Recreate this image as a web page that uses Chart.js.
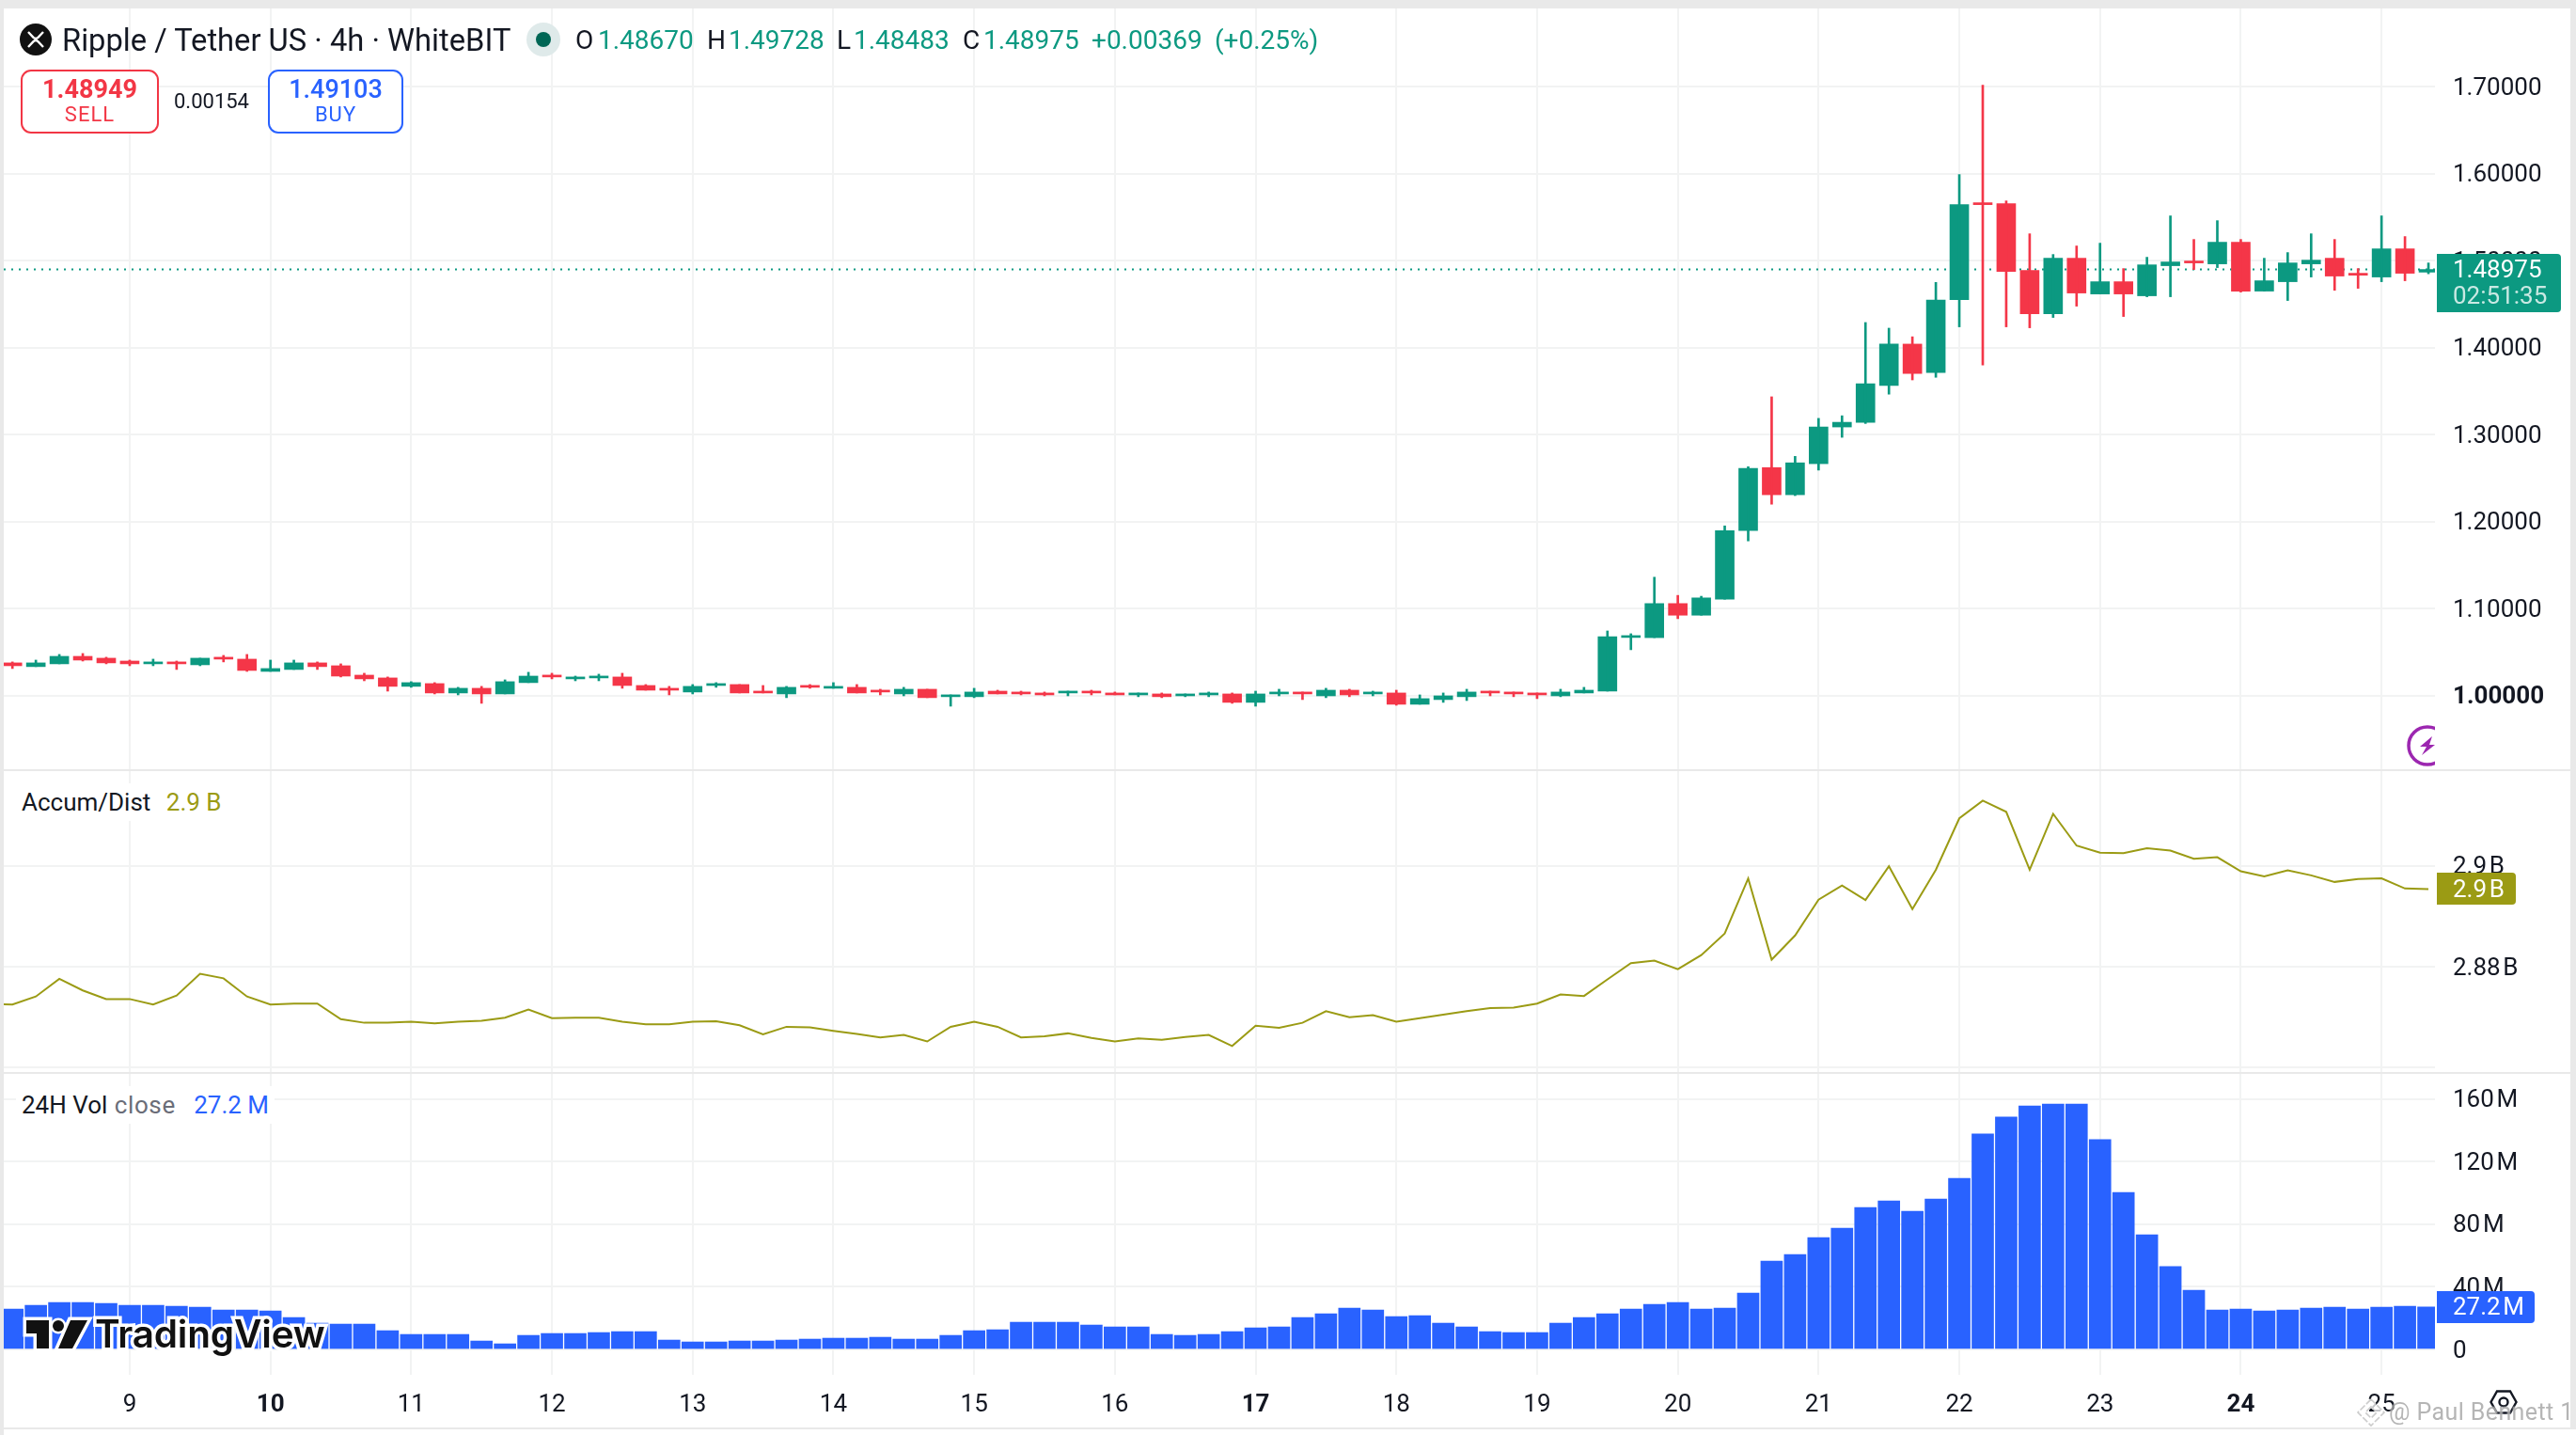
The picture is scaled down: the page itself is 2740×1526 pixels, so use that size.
<!DOCTYPE html>
<html><head><meta charset="utf-8"><title>Ripple / Tether US</title>
<script src="https://cdn.jsdelivr.net/npm/chart.js@4/dist/chart.umd.min.js"></script>
<style>
html,body{margin:0;padding:0;background:#fff;width:2740px;height:1526px;overflow:hidden;font-family:Roboto,sans-serif;color:#131722}
canvas{position:absolute;left:0}
.t{position:absolute;white-space:nowrap;line-height:40px;height:40px}
.g{color:#0c9981}
.bar{position:absolute;background:#e9e9e9}
.box{position:absolute;box-sizing:border-box;border:2px solid;border-radius:11px;background:#fff;text-align:center}
svg{position:absolute;overflow:visible}
</style></head><body>
<canvas id="priceCanvas" width="2740" height="809" style="top:9px"></canvas>
<canvas id="adCanvas" width="2740" height="320" style="top:820px"></canvas>
<canvas id="volCanvas" width="2740" height="376" style="top:1142px"></canvas>

<div class="bar" style="left:0;top:0;width:2740px;height:9px"></div>
<div class="bar" style="left:0;top:0;width:4px;height:1526px"></div>
<div class="bar" style="left:2734px;top:0;width:6px;height:1519px"></div>
<div class="bar" style="left:0;top:818px;width:2740px;height:2px"></div>
<div class="bar" style="left:0;top:1140px;width:2740px;height:2px"></div>
<div class="bar" style="left:0;top:1518px;width:2740px;height:2px"></div>

<svg style="left:21px;top:25px" width="34" height="34" viewBox="0 0 34 34">
  <circle cx="17" cy="17" r="17" fill="#111"/>
  <path d="M9 9 L14.5 14.8 Q17 17 19.5 14.8 L25 9 M9 25 L14.5 19.2 Q17 17 19.5 19.2 L25 25" fill="none" stroke="#fff" stroke-width="2.4"/>
</svg>
<div class="t" style="left:66px;top:23px;font-size:32.7px">Ripple / Tether US · 4h · WhiteBIT</div>
<svg style="left:560px;top:24px" width="36" height="36"><ellipse cx="18" cy="18" rx="18" ry="18" fill="#dfeaea"/><circle cx="18" cy="18" r="8" fill="#006655"/></svg>
<div class="t" style="left:612px;top:23px;font-size:28px">O</div><div class="t g" style="left:636px;top:23px;font-size:28px">1.48670</div>
<div class="t" style="left:752px;top:23px;font-size:28px">H</div><div class="t g" style="left:775px;top:23px;font-size:28px">1.49728</div>
<div class="t" style="left:890px;top:23px;font-size:28px">L</div><div class="t g" style="left:908px;top:23px;font-size:28px">1.48483</div>
<div class="t" style="left:1024px;top:23px;font-size:28px">C</div><div class="t g" style="left:1046px;top:23px;font-size:28px">1.48975</div>
<div class="t g" style="left:1161px;top:23px;font-size:28px">+0.00369</div>
<div class="t g" style="left:1292px;top:23px;font-size:28px">(+0.25%)</div>

<div class="box" style="left:22px;top:74px;width:147px;height:68px;border-color:#f23645"></div>
<div class="t" style="left:22px;width:147px;text-align:center;top:75px;font-size:27px;font-weight:700;color:#f23645">1.48949</div>
<div class="t" style="left:22px;width:147px;text-align:center;top:102px;font-size:22px;letter-spacing:1px;color:#f23645">SELL</div>
<div class="t" style="left:185px;top:88px;font-size:22px">0.00154</div>
<div class="box" style="left:285px;top:74px;width:144px;height:68px;border-color:#2962ff"></div>
<div class="t" style="left:285px;width:144px;text-align:center;top:75px;font-size:27px;font-weight:500;color:#2962ff">1.49103</div>
<div class="t" style="left:285px;width:144px;text-align:center;top:102px;font-size:22px;letter-spacing:1px;color:#2962ff">BUY</div>

<div class="t" style="left:17px;top:833px;font-size:26px;background:#fff;padding:0 6px">Accum/Dist <span style="color:#9b9b14;margin-left:10px">2.9 B</span></div>
<div class="t" style="left:17px;top:1155px;font-size:26px;background:#fff;padding:0 6px">24H Vol <span style="color:#6a6d78;margin-left:1px;letter-spacing:.6px">close</span> <span style="color:#2962ff;margin-left:13px">27.2 M</span></div>

<svg style="left:2560px;top:771px;clip-path:inset(-2px 14px -2px -2px)" width="44" height="44" viewBox="0 0 44 44">
  <circle cx="22" cy="22" r="20" fill="none" stroke="#9c27b0" stroke-width="3.5"/>
  <path d="M27 12 L14 23 H21 L16 32 L30 21 H24 Z" fill="#9c27b0"/>
</svg>

<svg style="left:28px;top:1404px" width="65" height="30" viewBox="0 0 65 30">
  <path d="M0 0H24V30H11V14H0Z M47 0H65L49 30H34Z" fill="#111" stroke="#fff" stroke-width="7" paint-order="stroke"/>
  <circle cx="34" cy="6" r="6" fill="#111" stroke="#fff" stroke-width="5" paint-order="stroke"/>
</svg>
<div class="t" style="left:101px;top:1394px;font-family:Inter,Roboto,sans-serif;font-size:40.5px;line-height:50px;height:50px;font-weight:600;letter-spacing:-.2px;color:#111;-webkit-text-stroke:7px #fff;paint-order:stroke fill">TradingView</div>

<svg style="left:2648px;top:1478px" width="30" height="26" viewBox="0 0 30 26">
  <path d="M8 1.5 H22 L28.5 13 L22 24.5 H8 L1.5 13 Z" fill="none" stroke="#131722" stroke-width="2.4"/>
  <circle cx="15" cy="13" r="4.5" fill="none" stroke="#131722" stroke-width="2.4"/>
</svg>
<svg style="left:2507px;top:1487px" width="30" height="30" viewBox="0 0 30 30">
  <path d="M15 1 L29 15 L15 29 L1 15 Z M15 9 L21 15 L15 21 L9 15 Z" fill="rgba(255,255,255,.75)" fill-rule="evenodd" stroke="#ccc" stroke-width="1.6" stroke-dasharray="7 2"/>
</svg>
<div class="t" style="left:2541px;top:1482px;font-size:25px;color:rgba(120,120,120,.55);letter-spacing:.4px;text-shadow:0 0 2px #fff">@ Paul Bennett 1</div>

<script>
// ---- chart values ----
const dayLabels = ['9','10','11','12','13','14','15','16','17','18','19','20','21','22','23','24','25'];
const dayBars   = [5,11,17,23,29,35,41,47,53,59,65,71,77,83,89,95,101];
const majorDays = ['10','17','24'];

const opens = [
1.0375,1.0332,1.0364,1.0450,1.0429,1.0396,1.0364,1.0386,1.0353,1.0440,
1.0418,1.0277,1.0299,1.0375,1.0342,1.0234,1.0202,1.0105,1.0137,1.0029,
1.0083,1.0018,1.0148,1.0234,1.0191,1.0202,1.0213,1.0115,1.0083,1.0040,
1.0115,1.0126,1.0050,1.0018,1.0115,1.0083,1.0094,1.0061,1.0018,1.0072,
0.9986,0.9986,1.0050,1.0040,1.0029,1.0029,1.0050,1.0029,1.0007,1.0018,
0.9996,1.0007,1.0018,0.9921,1.0018,1.0040,0.9996,1.0061,1.0018,1.0029,
0.9899,0.9953,0.9986,1.0050,1.0040,1.0029,0.9996,1.0029,1.0050,1.0667,
1.0665,1.1057,1.0923,1.1107,1.1896,1.2620,1.2308,1.2665,1.3087,1.3141,
1.3563,1.4040,1.3712,1.4551,1.5665,1.5654,1.4886,1.4389,1.5027,1.4616,
1.4757,1.4595,1.4941,1.4995,1.4962,1.5211,1.4649,1.4757,1.4962,1.5027,
1.4854,1.4811,1.5135,1.48670];
const highs = [
1.0386,1.0407,1.0472,1.0483,1.0440,1.0407,1.0418,1.0396,1.0429,1.0461,
1.0472,1.0407,1.0407,1.0386,1.0364,1.0256,1.0213,1.0159,1.0148,1.0094,
1.0105,1.0180,1.0267,1.0256,1.0223,1.0245,1.0256,1.0126,1.0105,1.0126,
1.0148,1.0126,1.0115,1.0105,1.0126,1.0148,1.0126,1.0072,1.0094,1.0072,
1.0007,1.0083,1.0061,1.0050,1.0040,1.0050,1.0061,1.0040,1.0029,1.0029,
1.0018,1.0040,1.0029,1.0050,1.0072,1.0040,1.0083,1.0072,1.0050,1.0061,
1.0007,1.0029,1.0072,1.0050,1.0040,1.0029,1.0072,1.0094,1.0742,1.0710,
1.1360,1.1151,1.1141,1.1950,1.2630,1.3434,1.2749,1.3186,1.3216,1.4288,
1.4223,1.4124,1.4749,1.5989,1.7016,1.5686,1.5308,1.5070,1.5168,1.5200,
1.4908,1.5038,1.5514,1.5243,1.5459,1.5243,1.5027,1.5092,1.5308,1.5243,
1.4908,1.5514,1.5276,1.49728];
const lows = [
1.0310,1.0332,1.0364,1.0396,1.0364,1.0342,1.0342,1.0299,1.0342,1.0386,
1.0277,1.0277,1.0299,1.0299,1.0213,1.0169,1.0050,1.0094,1.0018,1.0007,
0.9910,1.0018,1.0148,1.0191,1.0169,1.0169,1.0083,1.0061,1.0007,1.0018,
1.0094,1.0029,1.0029,0.9975,1.0083,1.0083,1.0029,1.0007,0.9996,0.9975,
0.9877,0.9975,1.0018,1.0007,0.9996,0.9996,1.0007,1.0007,0.9986,0.9975,
0.9986,0.9986,0.9910,0.9877,0.9996,0.9953,0.9975,0.9986,0.9996,0.9888,
0.9899,0.9921,0.9942,0.9996,0.9986,0.9964,0.9986,1.0029,1.0050,1.0526,
1.0665,1.0883,1.0923,1.1107,1.1777,1.2199,1.2298,1.2591,1.2968,1.3127,
1.3464,1.3628,1.3658,1.4238,1.3800,1.4238,1.4227,1.4346,1.4476,1.4616,
1.4357,1.4584,1.4584,1.4897,1.4919,1.4638,1.4649,1.4541,1.4811,1.4659,
1.4681,1.4757,1.4768,1.48483];
const closes = [
1.0342,1.0375,1.0450,1.0407,1.0375,1.0364,1.0386,1.0364,1.0429,1.0418,
1.0288,1.0310,1.0375,1.0332,1.0223,1.0191,1.0105,1.0148,1.0029,1.0083,
1.0018,1.0159,1.0223,1.0213,1.0213,1.0223,1.0115,1.0061,1.0061,1.0105,
1.0137,1.0029,1.0029,1.0094,1.0094,1.0105,1.0029,1.0040,1.0072,0.9975,
1.0007,1.0040,1.0018,1.0018,1.0007,1.0050,1.0029,1.0007,1.0029,0.9986,
1.0018,1.0029,0.9921,1.0018,1.0040,1.0018,1.0061,1.0007,1.0040,0.9899,
0.9964,0.9996,1.0040,1.0029,1.0018,1.0007,1.0040,1.0061,1.0677,1.0688,
1.1057,1.0923,1.1122,1.1896,1.2610,1.2308,1.2675,1.3087,1.3141,1.3583,
1.4040,1.3702,1.4546,1.5643,1.5643,1.4876,1.4389,1.5027,1.4627,1.4757,
1.4616,1.4951,1.4984,1.4973,1.5211,1.4649,1.4768,1.4973,1.5005,1.4822,
1.4832,1.5135,1.4854,1.48975];

const accumDistBefore = 2.8727;
const accumDist = [
2.8725,2.8741,2.8776,2.8753,2.8736,2.8736,2.8725,2.8743,2.8786,2.8777,
2.8741,2.8725,2.8727,2.8727,2.8696,2.8689,2.8689,2.8691,2.8688,2.8691,
2.8693,2.8699,2.8715,2.8698,2.8699,2.8699,2.8691,2.8686,2.8686,2.8691,
2.8692,2.8684,2.8666,2.8681,2.8680,2.8673,2.8667,2.8660,2.8665,2.8652,
2.8681,2.8691,2.8681,2.8660,2.8662,2.8668,2.8659,2.8652,2.8658,2.8655,
2.8661,2.8665,2.8643,2.8683,2.8679,2.8689,2.8712,2.8700,2.8704,2.8691,
2.8698,2.8705,2.8712,2.8718,2.8719,2.8727,2.8745,2.8742,2.8775,2.8807,
2.8812,2.8795,2.8823,2.8866,2.8975,2.8814,2.8862,2.8933,2.8961,2.8932,
2.8999,2.8914,2.8992,2.9094,2.9129,2.9107,2.8992,2.9103,2.9040,2.9026,
2.9025,2.9035,2.9030,2.9014,2.9017,2.8989,2.8979,2.8991,2.8981,2.8968,
2.8974,2.8975,2.8955,2.8954];

const volume24h = [
25.8,28.2,30.0,30.0,29.4,28.2,28.2,27.6,27.0,25.2,
25.2,24.6,20.4,16.8,16.2,16.2,12.0,9.6,9.6,9.6,
5.4,3.6,9.0,10.2,10.2,10.8,11.4,11.4,6.0,4.8,
4.8,5.4,5.4,6.0,6.6,7.2,7.2,7.8,6.6,6.6,
9.0,12.0,12.6,17.4,17.4,17.4,15.6,14.4,14.4,9.6,
9.0,9.6,11.4,13.8,14.4,20.4,22.8,26.4,25.2,21.0,
21.6,16.8,14.4,11.4,10.8,10.8,16.8,20.4,22.8,25.8,
28.8,30.0,25.8,26.4,36.0,56.5,60.7,71.5,77.5,90.7,
94.9,88.3,96.1,109.3,137.6,148.4,155.6,156.8,156.8,134.0,
100.3,73.3,52.9,37.8,25.2,25.8,24.6,25.2,26.4,27.0,
25.8,27.0,27.6,27.2];

const priceTicks = [1.0,1.1,1.2,1.3,1.4,1.5,1.6,1.7];
const adTicks = [2.86,2.88,2.9];
const adTickLabels = ['','2.88\u200AB','2.9\u200AB'];
const volTicks = [0,40,80,120,160];
const volTickLabels = ['0','40\u200AM','80\u200AM','120\u200AM','160\u200AM'];
const lastPrice = 1.48975, countdown = '02:51:35';
const lastAd = 2.8954, lastAdLabel = '2.9\u200AB';
const lastVol = 27.2, lastVolLabel = '27.2\u200AM';

// ---- styling ----
const GREEN='#0c9981', RED='#f43648', BLUE='#2962ff', OLIVE='#9b9b14', GRID='#f2f3f3', TEXT='#131722';
const FONT='Roboto';
const XMIN=-0.3687, XMAX=103.279;
const AXIS_W=150, TICK_PAD=19;
Chart.defaults.font.family=FONT;
Chart.defaults.animation=false;
Chart.defaults.plugins.legend.display=false;
Chart.defaults.plugins.tooltip.enabled=false;

function xScale(showLabels){
  return {type:'linear',min:XMIN,max:XMAX,bounds:'data',offset:false,
    border:{display:false},
    grid:{color:GRID,lineWidth:2,drawTicks:false,offset:false},
    afterBuildTicks:s=>{s.ticks=dayBars.map(v=>({value:v}));},
    afterFit:s=>{s.height=showLabels?56:0;s.paddingLeft=0;s.paddingRight=0;s.paddingTop=0;s.paddingBottom=0;},
    ticks:{display:showLabels,autoSkip:false,maxRotation:0,padding:17,color:TEXT,
      font:c=>({family:FONT,size:26,weight:c.tick&&majorDays.includes(dayLabels[dayBars.indexOf(c.tick.value)])?'700':'400'}),
      callback:v=>dayLabels[dayBars.indexOf(v)]}};
}
function yScale(min,max,ticks,fmt,boldV){
  return {position:'right',min,max,bounds:'data',border:{display:false},
    grid:{color:GRID,lineWidth:2,drawTicks:false},
    afterBuildTicks:s=>{s.ticks=ticks.map(v=>({value:v}));},
    afterFit:s=>{s.width=AXIS_W;s.paddingTop=0;s.paddingBottom=0;s.paddingLeft=0;s.paddingRight=0;},
    ticks:{autoSkip:false,crossAlign:'near',padding:TICK_PAD,labelOffset:2,color:TEXT,
      font:c=>({family:FONT,size:26,weight:c.tick&&c.tick.value===boldV?'700':'400'}),
      callback:fmt}};
}
function roundedTag(ctx,x,y,w,h,color){
  ctx.fillStyle=color;ctx.beginPath();ctx.roundRect(x,y,w,h,[0,4,4,0]);ctx.fill();
}
function tagPlugin(value,width,color,label){
  return {id:'lastTag',afterDraw(ch){
    const y=ch.scales.y.getPixelForValue(value),ctx=ch.ctx,x=ch.chartArea.right+2;
    ctx.save();roundedTag(ctx,x,Math.round(y)-17,width,34,color);
    ctx.fillStyle='#fff';ctx.font='26px '+FONT;ctx.textBaseline='middle';ctx.textAlign='left';
    ctx.fillText(label,ch.chartArea.right+TICK_PAD,y+2);ctx.restore();}};
}
const dottedLine={id:'dottedLine',beforeDatasetsDraw(ch){
  const y=ch.scales.y.getPixelForValue(lastPrice),ctx=ch.ctx,a=ch.chartArea;
  ctx.save();ctx.strokeStyle=GREEN;ctx.lineWidth=2;ctx.setLineDash([2,6]);
  ctx.beginPath();ctx.moveTo(a.left,y);ctx.lineTo(a.right,y);ctx.stroke();ctx.restore();}};
const priceTag={id:'priceTag',afterDraw(ch){
  const y=ch.scales.y.getPixelForValue(lastPrice),ctx=ch.ctx,x=ch.chartArea.right+2;
  ctx.save();roundedTag(ctx,x,Math.round(y)-17,132,62,GREEN);
  ctx.font='26px '+FONT;ctx.textBaseline='middle';ctx.textAlign='left';
  ctx.fillStyle='#fff';ctx.fillText(lastPrice.toFixed(5),ch.chartArea.right+TICK_PAD,y+2);
  ctx.fillStyle='rgba(255,255,255,.78)';ctx.fillText(countdown,ch.chartArea.right+TICK_PAD,y+30);
  ctx.restore();}};

const candleColor=closes.map((c,i)=>c>=opens[i]?GREEN:RED);
const PAD={left:4,right:0,top:0,bottom:0};

new Chart(document.getElementById('priceCanvas'),{type:'bar',
  data:{datasets:[
    {data:highs.map((h,i)=>({x:i,y:[lows[i],h]})),backgroundColor:candleColor,barThickness:2,grouped:false,borderWidth:0},
    {data:opens.map((o,i)=>({x:i,y:[o,closes[i]]})),backgroundColor:candleColor,barThickness:20,grouped:false,borderWidth:0,minBarLength:2}
  ]},
  options:{responsive:false,layout:{padding:PAD},
    scales:{x:xScale(false),
      y:yScale(0.91524,1.78984,priceTicks,v=>v.toFixed(5),1.0)}},
  plugins:[dottedLine,priceTag]});

new Chart(document.getElementById('adCanvas'),{type:'line',
  data:{datasets:[{data:[{x:-1,y:accumDistBefore}].concat(accumDist.map((v,i)=>({x:i,y:v}))),borderColor:OLIVE,borderWidth:2,pointRadius:0,tension:0}]},
  options:{responsive:false,layout:{padding:PAD},
    scales:{x:xScale(false),
      y:yScale(2.85914,2.91876,adTicks,v=>adTickLabels[adTicks.indexOf(v)],null)}},
  plugins:[tagPlugin(lastAd,84,OLIVE,lastAdLabel)]});

new Chart(document.getElementById('volCanvas'),{type:'bar',
  data:{datasets:[{data:volume24h.map((v,i)=>({x:i,y:v})),backgroundColor:BLUE,barThickness:23,borderWidth:0}]},
  options:{responsive:false,layout:{padding:PAD},
    scales:{x:xScale(true),
      y:yScale(-16.2,176,volTicks,v=>volTickLabels[volTicks.indexOf(v)],null)}},
  plugins:[tagPlugin(lastVol,104,BLUE,lastVolLabel)]});
</script>
</body></html>
